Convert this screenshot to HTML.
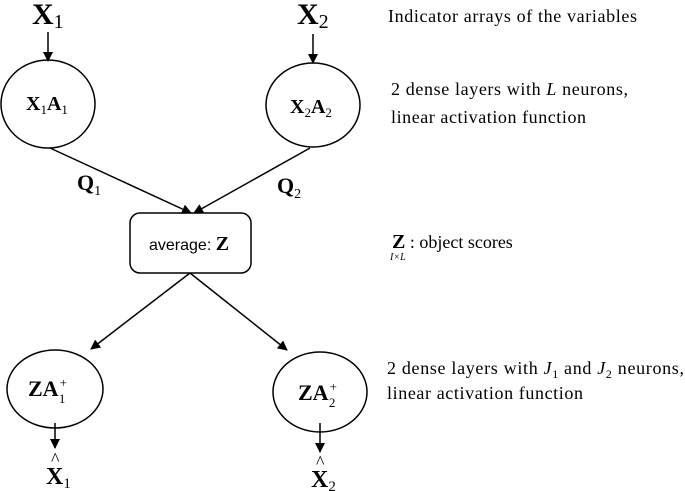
<!DOCTYPE html>
<html><head><meta charset="utf-8"><style>body{margin:0;background:#fff}svg{display:block}</style></head>
<body>
<svg width="685" height="491" viewBox="0 0 685 491" xmlns="http://www.w3.org/2000/svg" font-family="Liberation Serif, serif" fill="#000">
<defs><marker id="a" markerWidth="10" markerHeight="10" refX="9" refY="5" orient="auto" markerUnits="userSpaceOnUse"><path d="M0,0 L10,5 L0,10 z"/></marker></defs>
<g stroke="#000" stroke-width="1.5" fill="none">
<line x1="48" y1="32" x2="48" y2="61" marker-end="url(#a)"/>
<line x1="313" y1="34" x2="313" y2="63" marker-end="url(#a)"/>
<ellipse cx="48" cy="104" rx="47" ry="44"/>
<ellipse cx="313" cy="105" rx="47" ry="42"/>
<line x1="50" y1="148" x2="191" y2="213" marker-end="url(#a)"/>
<line x1="310" y1="148" x2="194" y2="213" marker-end="url(#a)"/>
<rect x="130" y="213" width="121" height="60" rx="10"/>
<line x1="190" y1="273" x2="91" y2="349" marker-end="url(#a)"/>
<line x1="190" y1="273" x2="287" y2="350" marker-end="url(#a)"/>
<ellipse cx="55" cy="389" rx="48" ry="39"/>
<ellipse cx="320" cy="392" rx="47" ry="40"/>
<line x1="55" y1="423" x2="55" y2="448" marker-end="url(#a)"/>
<line x1="320" y1="423" x2="320" y2="452" marker-end="url(#a)"/>
</g>
<g font-weight="bold">
<text x="32" y="24" font-size="30">X<tspan font-size="20" font-weight="normal" dy="4">1</tspan></text>
<text x="297" y="24" font-size="30">X<tspan font-size="20" font-weight="normal" dy="4">2</tspan></text>
<text x="26" y="110" font-size="20">X<tspan font-size="13" font-weight="normal" dy="4">1</tspan><tspan dy="-4">A</tspan><tspan font-size="13" font-weight="normal" dy="4">1</tspan></text>
<text x="290" y="113" font-size="20">X<tspan font-size="13" font-weight="normal" dy="4">2</tspan><tspan dy="-4">A</tspan><tspan font-size="13" font-weight="normal" dy="4">2</tspan></text>
<text x="77" y="190" font-size="22">Q<tspan font-size="14" font-weight="normal" dy="5">1</tspan></text>
<text x="277" y="193" font-size="22">Q<tspan font-size="14" font-weight="normal" dy="5">2</tspan></text>
<text x="28" y="396" font-size="22">ZA<tspan font-size="13" font-weight="normal" dx="1" dy="-9">+</tspan><tspan font-size="13" font-weight="normal" dx="-8" dy="16">1</tspan></text>
<text x="298" y="400" font-size="22">ZA<tspan font-size="13" font-weight="normal" dx="1" dy="-9">+</tspan><tspan font-size="13" font-weight="normal" dx="-8" dy="16">2</tspan></text>
<text x="46" y="484" font-size="24">X<tspan font-size="15" font-weight="normal" dy="4">1</tspan></text>
<text x="311" y="487" font-size="24">X<tspan font-size="15" font-weight="normal" dy="4">2</tspan></text>
</g>
<text x="51" y="465" font-size="18">^</text>
<text x="316" y="468" font-size="18">^</text>
<text x="149" y="250" font-size="16" font-family="Liberation Sans, sans-serif">average: <tspan font-family="Liberation Serif, serif" font-weight="bold" font-size="20">Z</tspan></text>
<g font-size="18">
<text x="388" y="22" textLength="249">Indicator arrays of the variables</text>
<text x="391" y="95" textLength="237">2 dense layers with <tspan font-style="italic">L</tspan> neurons,</text>
<text x="391" y="123" textLength="195">linear activation function</text>
<text x="392" y="248"><tspan font-weight="bold" font-size="20">Z</tspan> : object scores</text>
<text x="390" y="260" font-size="10" font-style="italic">I×L</text>
<text x="387" y="374" textLength="297">2 dense layers with <tspan font-style="italic">J</tspan><tspan font-size="12" dy="4">1</tspan><tspan dy="-4"> and </tspan><tspan font-style="italic">J</tspan><tspan font-size="12" dy="4">2</tspan><tspan dy="-4"> neurons,</tspan></text>
<text x="387" y="399" textLength="196">linear activation function</text>
</g>
</svg>
</body></html>
